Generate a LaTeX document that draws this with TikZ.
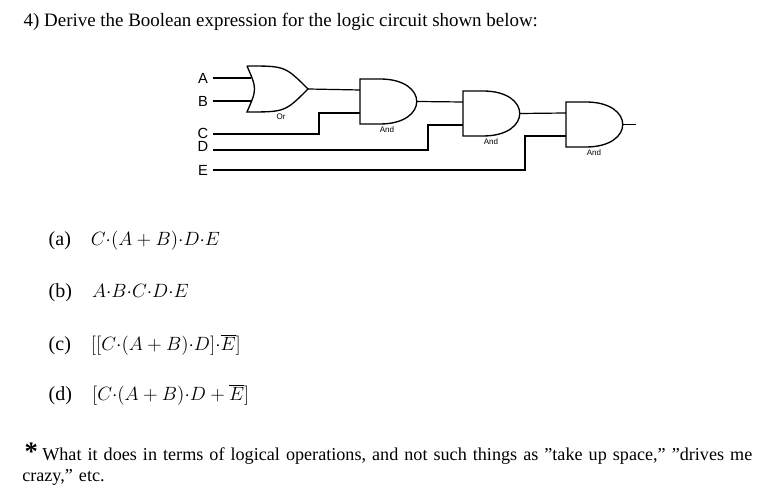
\documentclass[tikz,border=0pt]{standalone}
\usepackage{fontspec}
\setmainfont{Liberation Serif}
\newfontfamily\lsans{Liberation Sans}
\begin{document}
\begin{tikzpicture}[x=0.75pt,y=-0.75pt,
  wire/.style={line width=0.9pt},
  gate/.style={line width=1pt},
  pin/.style={font=\lsans\fontsize{11}{11}\selectfont,anchor=center},
  glabel/.style={font=\lsans\fontsize{6}{6}\selectfont},
  opt/.style={anchor=west,font=\fontsize{15}{17}\selectfont}]
\useasboundingbox (0,0) rectangle (779,498);
\node[anchor=west,font=\fontsize{14.2}{16}\selectfont] (title) at (19,22) {4) Derive the Boolean expression for the logic circuit shown below:};
% pins
\node[pin] (A) at (203,78) {A};
\node[pin] (B) at (203,101) {B};
\node[pin] (C) at (203,133) {C};
\node[pin] (D) at (203,146) {D};
\node[pin] (E) at (203,170) {E};
% OR gate
\draw[gate] (247,66) .. controls (257,89) .. (247,112) .. controls (285,112) .. (308,89) .. controls (285,66) .. (247,66);
\node[glabel] (orl) at (281,117) {Or};
% AND gates
\draw[gate] (360,79) -- (380,79) .. controls (429,79) and (429,124) .. (380,124) -- (360,124) -- cycle;
\draw[gate] (463,91) -- (483,91) .. controls (532,91) and (532,136) .. (483,136) -- (463,136) -- cycle;
\draw[gate] (566,102) -- (586,102) .. controls (635,102) and (635,147) .. (586,147) -- (566,147) -- cycle;
\coordinate (g1a) at (360,90);
\coordinate (g1b) at (360,113);
\coordinate (g1o) at (417,101.5);
\coordinate (g2a) at (463,102);
\coordinate (g2b) at (463,125);
\coordinate (g2o) at (520,113.5);
\coordinate (g3a) at (566,113);
\coordinate (g3b) at (566,136);
\coordinate (g3o) at (623,124.5);
\coordinate (orout) at (308,89);
\node[glabel] (l1) at (387,130) {And};
\node[glabel] (l2) at (491,142) {And};
\node[glabel] (l3) at (594,153) {And};
% wires
\draw[wire] (A.east) -- (251,78);
\draw[wire] (B.east) -- (252,101);
\draw[wire] (orout) -- (g1a);
\draw[wire] (C.east) ++(0,1) -- (319,134) |- (g1b);
\draw[wire] (g1o) -- (g2a);
\draw[wire] (D.east) ++(0,4) -- (428,150) |- (g2b);
\draw[wire] (g2o) -- (g3a);
\draw[wire] (E.east) -- (525,170) |- (g3b);
\draw[wire] (g3o) -- ++(13,0);
% options
\node[opt] (a) at (44,241) {(a)\quad $C{\cdot}(A+B){\cdot}D{\cdot}E$};
\node[opt] (b) at (44,293) {(b)\quad $A{\cdot}B{\cdot}C{\cdot}D{\cdot}E$};
\node[opt] (c) at (44,345) {(c)\quad $[[C{\cdot}(A+B){\cdot}D]{\cdot}\overline{E}]$};
\node[opt] (d) at (44,395) {(d)\quad $[C{\cdot}(A+B){\cdot}D+\overline{E}]$};
% footnote
\node[anchor=west,font=\bfseries\fontsize{20}{20}\selectfont] (star) at (20,452) {*};
\node[anchor=north west,align=left,text width=600pt,font=\fontsize{13.6}{17}\selectfont,inner sep=0pt] (foot) at (42,447) {What it does in terms of logical operations, and not such things as \char34take up space,\char34{} \char34drives me\\[-1pt]\hspace*{-15pt}crazy,\char34{} etc.};
\end{tikzpicture}
\end{document}
